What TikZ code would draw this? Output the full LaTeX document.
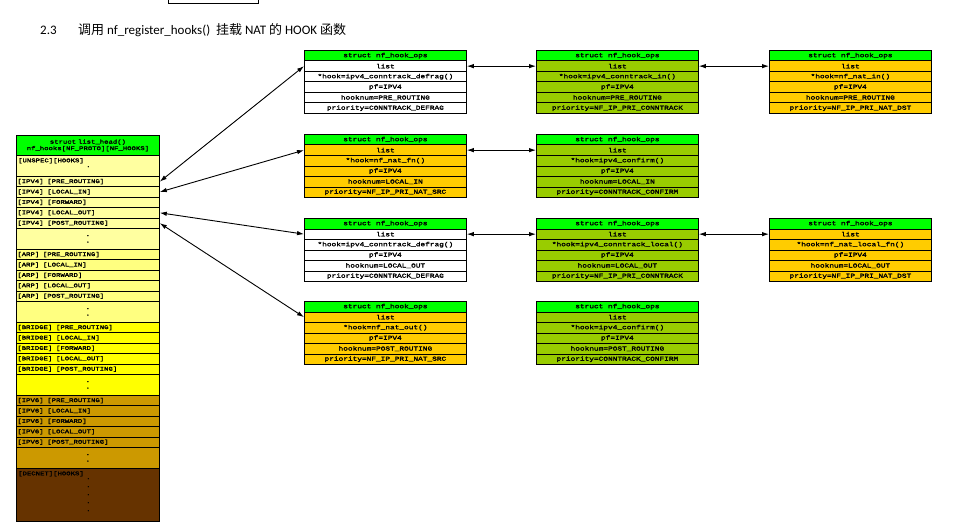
\documentclass[tikz,border=0pt]{standalone}
\usepackage{fontspec}
\newfontfamily\mono[FakeStretch=1.3,FakeBold=2.5]{Liberation Mono}
\newfontfamily\cjk{Noto Sans CJK SC}
\setmainfont{Carlito}
\definecolor{hgreen}{HTML}{00FF00}
\definecolor{olive}{HTML}{99CC00}
\definecolor{org}{HTML}{FFCC00}
\definecolor{ly}{HTML}{FFFFA0}
\definecolor{my}{HTML}{FFFF80}
\definecolor{yy}{HTML}{FFFF00}
\definecolor{gold}{HTML}{CC9900}
\definecolor{brn}{HTML}{663300}
\tikzset{
 cell/.style={draw=black,line width=0.8pt,anchor=north west,minimum width=162pt,minimum height=10.5pt,inner sep=0pt,font=\mono\fontsize{6}{7}\selectfont},
 lcell/.style={draw=black,line width=0.8pt,anchor=north west,minimum width=143pt,text width=141pt,align=left,inner sep=1pt,font=\mono\fontsize{5.6}{6.5}\selectfont},
 txt/.style={anchor=north west,inner sep=0pt,font=\mono\fontsize{5.6}{6.5}\selectfont},
 conn/.style={<->,>={Latex[length=7pt,width=4.5pt]},line width=0.9pt}
}
\usetikzlibrary{arrows.meta}
\newcommand{\hb}[7]{%
 \node[cell,fill=hgreen] (#1h) at (#2,#3) {struct nf\_hook\_ops};
 \node[cell,fill=#4] (#1l) at (#2,#3+10.5) {list};
 \node[cell,fill=#4] at (#2,#3+21) {*hook=#5};
 \node[cell,fill=#4] at (#2,#3+31.5) {pf=IPV4};
 \node[cell,fill=#4] at (#2,#3+42) {hooknum=#6};
 \node[cell,fill=#4] at (#2,#3+52.5) {priority=#7};
}
\begin{document}
\begin{tikzpicture}[x=1pt,y=-1pt]
\useasboundingbox (0,0) rectangle (953,532);
\draw[line width=0.8pt] (168,0) -- (168,3) -- (258,3) -- (258,0);
\node[anchor=west,font=\fontsize{13}{13}\selectfont,inner sep=0] (t1) at (40,30) {2.3};
\node[anchor=west,font=\fontsize{13}{13}\selectfont,inner sep=0] (t2) at (78,30) {{\cjk 调用} nf\_register\_hooks() \ {\cjk 挂载} NAT {\cjk 的} HOOK {\cjk 函数}};
% left column
\node[lcell,fill=hgreen,minimum height=20pt,align=center] (lh) at (16,135) {struct list\_head()\\nf\_hooks[NF\_PROTO][NF\_HOOKS]};
\node[lcell,fill=ly,minimum height=21pt] (un) at (16,155) {};
\node[txt] at (18,158) {[UNSPEC][HOOKS]};
\node[txt] at (86,166) {.};
\foreach \t [count=\i from 0] in {PRE\_ROUTING,LOCAL\_IN,FORWARD,LOCAL\_OUT,POST\_ROUTING}
  \node[lcell,fill=ly,minimum height=10.4pt] (v4\i) at (16,176+10.4*\i) {[IPV4]\ \ [\t]};
\node[lcell,fill=ly,minimum height=21pt,align=center] (d1) at (16,228) {.\\.};
\foreach \t [count=\i from 0] in {PRE\_ROUTING,LOCAL\_IN,FORWARD,LOCAL\_OUT,POST\_ROUTING}
  \node[lcell,fill=my,minimum height=10.4pt] (ar\i) at (16,249+10.4*\i) {[ARP]\ \ [\t]};
\node[lcell,fill=my,minimum height=21pt,align=center] (d2) at (16,301) {.\\.};
\foreach \t [count=\i from 0] in {PRE\_ROUTING,LOCAL\_IN,FORWARD,LOCAL\_OUT,POST\_ROUTING}
  \node[lcell,fill=yy,minimum height=10.4pt] (br\i) at (16,322+10.4*\i) {[BRIDGE]\ \ [\t]};
\node[lcell,fill=yy,minimum height=21pt,align=center] (d3) at (16,374) {.\\.};
\foreach \t [count=\i from 0] in {PRE\_ROUTING,LOCAL\_IN,FORWARD,LOCAL\_OUT,POST\_ROUTING}
  \node[lcell,fill=gold,minimum height=10.4pt] (v6\i) at (16,395+10.4*\i) {[IPV6]\ \ [\t]};
\node[lcell,fill=gold,minimum height=21pt,align=center] (d4) at (16,447) {.\\.};
\node[lcell,fill=brn,minimum height=53pt] (dn) at (16,468) {};
\node[txt] at (18,471) {[DECNET][HOOKS]};
\foreach \k in {0,...,4} \node[txt] at (86,478+8*\k) {.};
% hook boxes
\hb{a1}{304}{50}{white}{ipv4\_conntrack\_defrag()}{PRE\_ROUTING}{CONNTRACK\_DEFRAG}
\hb{a2}{536}{50}{olive}{ipv4\_conntrack\_in()}{PRE\_ROUTING}{NF\_IP\_PRI\_CONNTRACK}
\hb{a3}{769}{50}{org}{nf\_nat\_in()}{PRE\_ROUTING}{NF\_IP\_PRI\_NAT\_DST}
\hb{b1}{304}{134}{org}{nf\_nat\_fn()}{LOCAL\_IN}{NF\_IP\_PRI\_NAT\_SRC}
\hb{b2}{536}{134}{olive}{ipv4\_confirm()}{LOCAL\_IN}{CONNTRACK\_CONFIRM}
\hb{c1}{304}{218}{white}{ipv4\_conntrack\_defrag()}{LOCAL\_OUT}{CONNTRACK\_DEFRAG}
\hb{c2}{536}{218}{olive}{ipv4\_conntrack\_local()}{LOCAL\_OUT}{NF\_IP\_PRI\_CONNTRACK}
\hb{c3}{769}{218}{org}{nf\_nat\_local\_fn()}{LOCAL\_OUT}{NF\_IP\_PRI\_NAT\_DST}
\hb{d1b}{304}{301}{org}{nf\_nat\_out()}{POST\_ROUTING}{NF\_IP\_PRI\_NAT\_SRC}
\hb{d2b}{536}{301}{olive}{ipv4\_confirm()}{POST\_ROUTING}{CONNTRACK\_CONFIRM}
% connectors
\draw[conn] (v40.east) -- (a1l.west);
\draw[conn] (v41.east) -- (b1l.west);
\draw[conn] (v43.east) -- (c1l.west);
\draw[conn] (v44.east) -- (d1bl.west);
\draw[conn] (a1l.east) -- (a2l.west);
\draw[conn] (a2l.east) -- (a3l.west);
\draw[conn] (b1l.east) -- (b2l.west);
\draw[conn] (c1l.east) -- (c2l.west);
\draw[conn] (c2l.east) -- (c3l.west);
\end{tikzpicture}
\end{document}
